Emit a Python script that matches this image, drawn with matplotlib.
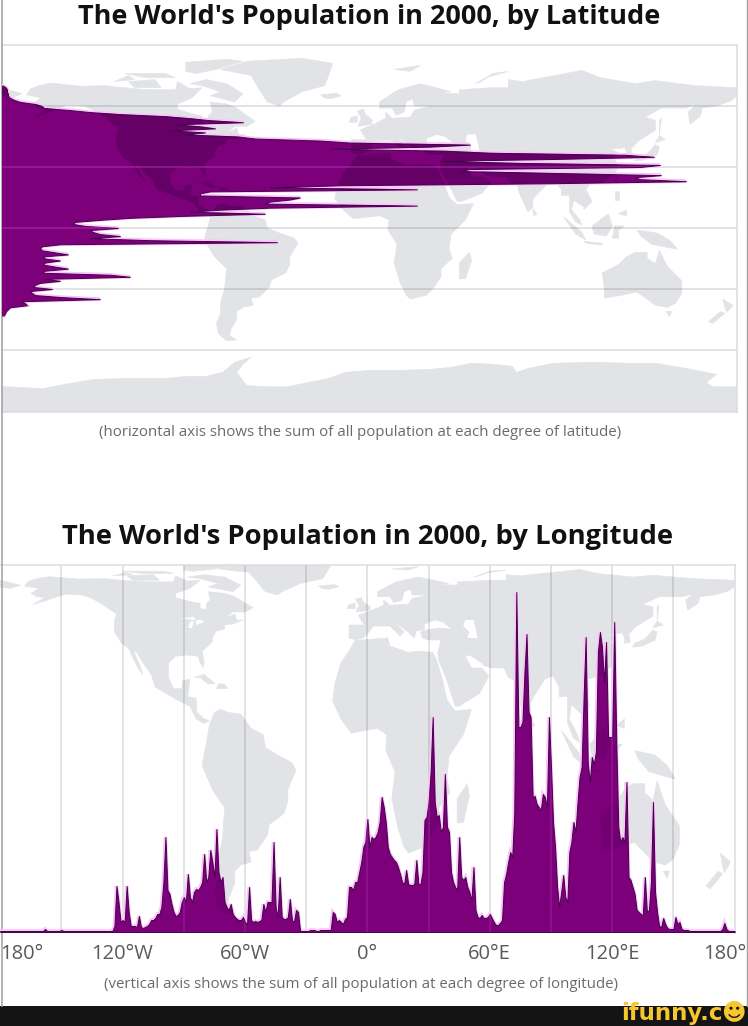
"""World population by latitude and by longitude, drawn over a grey land map."""

import matplotlib
matplotlib.use("Agg")
import matplotlib.pyplot as plt
import numpy as np
from matplotlib.lines import Line2D
from matplotlib.patches import Polygon, Rectangle
from matplotlib.transforms import ScaledTranslation

plt.rcParams["font.family"] = ["Open Sans", "DejaVu Sans"]

TITLE_LAT = "The World's Population in 2000, by Latitude"
TITLE_LON = "The World's Population in 2000, by Longitude"
NOTE_LAT = "(horizontal axis shows the sum of all population at each degree of latitude)"
NOTE_LON = "(vertical axis shows the sum of all population at each degree of longitude)"

LON_TICKS = [-180, -120, -60, 0, 60, 120, 180]
LON_LABELS = ["180°", "120°W", "60°W", "0°", "60°E", "120°E", "180°"]

# one value per degree of latitude, from 70N to 43S
LATITUDES = np.arange(70, -44, -1)
POP_BY_LAT = [
    3, 6, 7, 7, 8, 8, 10, 14, 20, 35,
    42, 44, 70, 90, 120, 165, 190, 210, 243, 175,
    200, 215, 170, 205, 185, 238, 255, 320, 350, 470,
    430, 330, 445, 490, 625, 654, 560, 440, 520, 660,
    640, 470, 460, 560, 661, 635, 640, 686, 550, 340,
    270, 417, 210, 200, 200, 300, 290, 270, 265, 417,
    270, 220, 190, 265, 185, 130, 100, 75, 73, 85,
    118, 90, 93, 100, 120, 90, 150, 277, 60, 42,
    40, 42, 55, 68, 43, 45, 60, 45, 43, 55,
    68, 45, 42, 110, 130, 45, 60, 40, 35, 33,
    52, 30, 32, 35, 62, 100, 22, 25, 27, 10,
    8, 6, 5, 4,
]

# one value per degree of longitude, from 180W to 180E
LONGITUDES = np.arange(-180, 181)
POP_BY_LON = [
    1, 1, 1, 1, 1, 1, 1, 1, 1, 1,
    1, 1, 1, 1, 1, 1, 1, 1, 1, 1,
    1, 1, 3, 1, 1, 1, 1, 1, 1, 1,
    2, 1, 1, 1, 1, 1, 1, 1, 1, 1,
    1, 1, 1, 1, 1, 1, 1, 1, 1, 1,
    1, 1, 1, 1, 1, 1, 6, 46, 30, 10,
    12, 10, 46, 20, 6, 6, 6, 5, 16, 5,
    4, 5, 6, 8, 12, 12, 14, 18, 18, 25,
    50, 95, 42, 38, 28, 20, 16, 17, 20, 30,
    35, 30, 58, 35, 30, 40, 43, 42, 45, 50,
    78, 50, 55, 82, 70, 55, 103, 60, 50, 55,
    30, 25, 22, 28, 18, 15, 13, 12, 12, 15,
    10, 8, 45, 12, 10, 11, 10, 11, 12, 28,
    20, 30, 30, 30, 90, 25, 15, 55, 15, 13,
    13, 15, 33, 12, 10, 22, 20, 1, 1, 1,
    1, 1, 2, 2, 2, 1, 1, 2, 2, 2,
    2, 2, 2, 20, 18, 10, 12, 10, 8, 13,
    15, 45, 45, 42, 50, 50, 60, 70, 85, 90,
    113, 85, 95, 93, 95, 100, 110, 135, 125, 110,
    85, 78, 75, 72, 70, 65, 58, 50, 48, 62,
    48, 47, 47, 48, 72, 48, 48, 60, 112, 115,
    130, 160, 215, 130, 115, 117, 100, 105, 158, 105,
    100, 60, 50, 45, 42, 95, 55, 52, 55, 45,
    40, 32, 65, 22, 15, 14, 17, 14, 14, 15,
    18, 14, 10, 7, 7, 9, 12, 50, 58, 70,
    80, 75, 120, 340, 205, 205, 210, 260, 298, 220,
    215, 135, 136, 128, 125, 122, 138, 135, 125, 215,
    165, 110, 85, 45, 25, 40, 57, 35, 30, 80,
    90, 110, 100, 130, 155, 165, 235, 295, 170, 150,
    175, 168, 180, 280, 300, 285, 250, 290, 195, 195,
    195, 310, 190, 105, 90, 95, 90, 150, 55, 52,
    45, 38, 22, 20, 18, 17, 55, 20, 22, 50,
    130, 40, 20, 6, 5, 14, 8, 4, 3, 3,
    3, 15, 8, 10, 3, 2, 2, 2, 1, 1,
    1, 1, 1, 1, 1, 1, 1, 1, 1, 1,
    1, 1, 1, 1, 3, 9, 3, 1, 1, 1,
    1,
]

# land outlines as (lon, lat)
LAND = [
    # north america
    [(-168, 65.5), (-166, 68.5), (-162, 70), (-156, 71.3), (-141, 69.7), (-130, 70), (-115, 68.5), (-108, 68),
     (-95, 68), (-94, 72), (-88, 68.5), (-82, 69), (-85, 66), (-87, 64), (-94, 61), (-94, 58.5), (-88, 56.5),
     (-82, 55), (-82, 52), (-79, 51.5), (-79, 55), (-77, 57), (-78, 62), (-70, 61), (-65, 59), (-61, 56),
     (-56, 52.5), (-60, 50), (-66, 50), (-70, 47), (-65, 49), (-64, 46), (-61, 46), (-66, 44), (-70, 43.5),
     (-70, 41.5), (-74, 40.5), (-76, 37), (-76, 35), (-81, 31.5), (-80, 27), (-80.5, 25.2), (-82, 27), (-83, 29.5),
     (-89, 30), (-94, 29.5), (-97.5, 27), (-97.5, 22), (-95, 18.5), (-91, 18.5), (-90.5, 21), (-87, 21.5),
     (-88, 16), (-84, 15.5), (-83.5, 11), (-80, 9), (-77.5, 8.5), (-80, 7.5), (-84, 9), (-87, 13), (-92, 14.5),
     (-96, 16), (-104, 19), (-106, 23), (-110, 27), (-113, 31), (-114.7, 31.5), (-112, 27), (-110, 23),
     (-112, 24.5), (-115, 29), (-117, 32.5), (-120.5, 34.5), (-122, 37), (-124, 40), (-124, 46), (-123, 49),
     (-130, 54.5), (-135, 58), (-140, 60), (-148, 60.5), (-152, 59), (-158, 56.5), (-164, 54.5), (-158, 58.5),
     (-162, 59), (-165, 61), (-161, 64)],
    # arctic islands
    [(-80, 73), (-70, 71), (-62, 66), (-66, 62), (-74, 64), (-78, 65), (-73, 67), (-82, 70), (-88, 71)],
    [(-118, 72), (-105, 73), (-102, 69), (-115, 69)],
    [(-90, 77), (-85, 76), (-75, 78), (-62, 82), (-70, 83), (-90, 81.5)],
    [(-125, 72), (-118, 75), (-115, 73)],
    [(-120, 76), (-100, 76), (-95, 74), (-110, 74)],
    # greenland
    [(-73, 78), (-60, 82), (-33, 83.5), (-18, 81), (-20, 75), (-22, 70), (-33, 67), (-42, 62), (-44, 60), (-50, 62),
     (-54, 68), (-58, 75)],
    [(-24, 65.5), (-16, 66.3), (-14, 65), (-19, 63.5), (-22, 64)],
    [(-85, 22), (-80, 23), (-74.5, 20), (-78, 20), (-82, 22)],
    [(-74, 18.5), (-68.5, 18.5), (-70, 20), (-73, 20)],
    # south america
    [(-72, 12), (-68, 11), (-62, 10.5), (-57, 6), (-51, 4), (-50, 0), (-44, -2.5), (-37, -5), (-35, -7.5), (-39, -14),
     (-39, -18), (-41, -22), (-48, -25.5), (-49, -29), (-54, -34), (-58, -34.5), (-57, -38), (-62, -39), (-65, -41),
     (-65, -45), (-68, -50), (-68.5, -53), (-65, -55), (-70, -55.5), (-74, -52), (-75, -47), (-73, -42), (-73, -37),
     (-71, -30), (-70, -20), (-76, -14), (-81, -6), (-80, -2), (-79, 1), (-77.5, 7), (-75, 11)],
    # africa
    [(-6, 35.8), (10, 37), (11, 33.5), (20, 31), (25, 31.5), (32, 31), (34, 28), (37, 21), (39, 15), (43, 11.5),
     (51, 12), (47, 4), (40, -3), (39, -10), (40.5, -15), (35, -20), (35, -24), (32.5, -28), (28, -33), (20, -35),
     (18, -33), (15, -27), (12, -17), (13.5, -8), (9, -1), (9.5, 4), (5, 6), (-4, 5), (-8, 4.5), (-13, 9), (-17, 14.5),
     (-16, 20), (-13, 27), (-9.5, 31)],
    [(49, -12), (50, -16), (47, -25), (44, -25), (44, -17)],
    # eurasia
    [(-9, 37), (-9, 43.5), (-1.5, 43.5), (-4.5, 48.3), (2, 51), (8, 54), (8, 57), (11, 54), (20, 54.5), (22, 58),
     (30, 60), (22, 60), (21, 64), (25, 65.5), (18, 62), (17, 57), (13, 55.5), (11, 59), (5, 59), (5, 62), (14, 68),
     (25, 71), (40, 67), (33, 66.5), (44, 66), (44, 68), (60, 69), (68, 69), (68, 73), (75, 72), (80, 73), (104, 77.5),
     (113, 74), (130, 71), (140, 72.5), (160, 70), (180, 69), (180, 65), (177, 62.5), (170, 60), (163, 59), (162, 55),
     (157, 51), (156, 57), (160, 61), (155, 59), (143, 59), (135, 54.5), (140, 53), (140, 48), (132, 43), (128, 39),
     (129, 35), (126, 34.5), (126, 37), (125, 39.5), (121, 39), (118, 39), (122, 37), (119, 35), (122, 31), (120, 26),
     (114, 22.5), (108, 21.5), (106, 19), (109, 13), (105, 9), (105, 10.5), (100, 13.5), (99, 9), (103, 4), (104, 1.5),
     (101, 3), (98, 8), (98, 16), (94, 16), (94, 19), (91, 22.5), (87, 21.5), (82, 16.5), (80, 14), (80, 10), (77.5, 8),
     (73, 18), (72.5, 21), (69, 22), (67, 25), (61, 25), (57, 26), (56, 27), (50, 30), (48, 29.5), (51, 25), (56, 25),
     (59.5, 22.5), (55, 17), (45, 13), (43, 13), (39, 21), (35, 28), (34.5, 31), (36, 36), (30, 36), (27, 37), (26, 40),
     (29, 41), (35, 42), (41.5, 41.5), (37, 45), (33, 46), (28, 44), (28, 41), (24, 40.5), (23, 37), (20, 40), (13, 45.5),
     (18, 40), (16, 38), (11, 43), (3, 43), (0, 39), (-2, 37), (-5.5, 36)],
    [(-180, 69), (-170, 66), (-175, 64), (-180, 65)],
    # europe and asia islands
    [(-5.5, 50), (1, 51), (1.5, 53), (-2, 56), (-3, 58.5), (-6, 57.5), (-4, 54), (-5, 52)],
    [(-10, 52), (-6, 52), (-6, 55), (-9, 54.5)],
    [(52, 71), (57, 74), (68, 77), (60, 76), (55, 72)],
    [(12, 78), (25, 80), (20, 77)],
    [(142, 46), (143, 54), (142, 53), (142, 47)],
    [(130, 33), (135, 33.5), (141, 36), (142, 40), (140, 41), (136, 36.5), (131, 34.5)],
    [(140, 42), (145, 43.5), (142, 45.5)],
    [(120, 22), (122, 25), (121, 25)],
    [(80, 9.5), (82, 7), (80.5, 6)],
    [(95, 5.5), (104, -2), (106, -6), (101, -3)],
    [(105, -6.5), (114, -7.5), (114, -8.5), (106, -7.5)],
    [(109, 1), (117, 7), (119, 1), (116, -4), (110, -3)],
    [(120, 1), (125, 1), (122, -1), (122, -5), (119, -5)],
    [(120, 18), (122, 18), (122, 14), (120, 14)],
    [(122, 7), (126, 9), (126, 6)],
    [(131, -1), (141, -2.5), (147, -6), (151, -10.5), (143, -9), (138, -8), (133, -4)],
    # australia, new zealand
    [(114, -22), (122, -18), (126, -14), (130, -12), (136, -12), (136, -15), (140, -17.5), (142, -11), (146, -19),
     (153, -26), (153, -32), (150, -37), (146, -39), (140, -38), (136, -35), (131, -31.5), (124, -33), (115, -34.5),
     (115, -30)],
    [(145, -41), (148, -41), (147, -43.5)],
    [(173, -35), (178, -38), (175, -41.5), (174, -39)],
    [(172, -41), (174, -42), (168, -47), (166, -46)],
]
ANTARCTICA = [
    (-180, -78), (-160, -79), (-150, -77), (-135, -74.5), (-120, -74), (-100, -74), (-90, -73), (-80, -73), (-72, -71),
    (-66, -66), (-58, -63.5), (-62, -67), (-65, -71), (-62, -75), (-60, -77.5), (-50, -78), (-40, -78), (-30, -76),
    (-20, -74), (-12, -71), (0, -70), (15, -70), (30, -69.5), (40, -68.5), (50, -66.5), (60, -67), (70, -68), (72, -71),
    (78, -69), (90, -66.5), (110, -66), (125, -66.5), (140, -66.5), (155, -69), (165, -71), (170, -72), (165, -76),
    (168, -78), (180, -78), (180, -91), (-180, -91),
]
WATER = [
    [(49, 37), (54, 37), (53, 42), (52, 46), (48, 46), (47, 43), (50, 40)],
    [(-92, 46.8), (-85, 47.5), (-84.5, 46), (-88, 46.5)],
    [(-87.8, 42), (-86, 42), (-85, 45.5), (-87, 45)],
    [(-84, 43.5), (-80, 45), (-81, 46), (-84, 46)],
]

# the lower map is stretched unevenly: latitude -> row of the map
STRETCH_LAT = [-60, -35, 0, 25, 35, 45, 50, 60, 71, 84]
STRETCH_ROW = [928, 853, 747.5, 668, 642, 622, 612, 595, 577, 562]

LAND_COLOR = "#e2e3e6"
PURPLE = "#7b0079"
DARK = "#45004c"
HALO = "#f9c6f8"
W, H = 748, 1026


def axes_px(fig, x0, y0, x1, y1, zorder):
    ax = fig.add_axes([x0 / W, 1 - y1 / H, (x1 - x0) / W, (y1 - y0) / H], zorder=zorder)
    ax.patch.set_alpha(0)
    ax.set_xticks([])
    ax.set_yticks([])
    for s in ax.spines.values():
        s.set_visible(False)
    return ax


def draw_land(ax, shapes, **kw):
    out = []
    for xy in shapes:
        p = Polygon(xy, closed=True, **kw)
        ax.add_patch(p)
        out.append(p)
    return out


def overlay(ax_main, ax_map, fill, shapes, alpha):
    """darker land seen through the purple, like a multiply blend"""
    path = fill.get_paths()[0]
    for xy in shapes:
        p = Polygon(xy, closed=True, fc=DARK, ec="none", alpha=alpha, transform=ax_map.transData)
        ax_main.add_patch(p)
        p.set_clip_path(path, ax_main.transData)


fig = plt.figure(figsize=(W / 100, H / 100), dpi=100, facecolor="white")

# ---------- by latitude ----------
map_top = axes_px(fig, 2, 45, 737, 412, 1)
map_top.set_xlim(-180, 180)
map_top.set_ylim(-90.5, 90)
draw_land(map_top, LAND + [ANTARCTICA], fc=LAND_COLOR, ec=LAND_COLOR, lw=0.4)
draw_land(map_top, WATER, fc="white", ec="none")
for lat in [60, 30, 0, -30, -60]:
    map_top.axhline(lat, color="black", alpha=0.14, lw=1.1)
for s in map_top.spines.values():
    s.set_visible(True)
    s.set_color("#dcdcdc")
    s.set_linewidth(1.1)

main_top = axes_px(fig, 2, 45, 737, 412, 2)
main_top.plot(POP_BY_LAT, LATITUDES, color=HALO, lw=2.6, solid_joinstyle="miter", zorder=0.5)
fill = main_top.fill_betweenx(LATITUDES, 0, POP_BY_LAT, facecolor=PURPLE, edgecolor=DARK, lw=0.7, zorder=1)
overlay(main_top, map_top, fill, LAND, 0.42)
for lat in [30, 0]:
    ln = main_top.axhline(lat, color="#c93cc4", alpha=0.45, lw=1.2)
    ln.set_clip_path(fill.get_paths()[0], main_top.transData)
main_top.set_xlim(2, 737)
main_top.set_ylim(-90.5, 90)

# ---------- by longitude ----------
map_bot = axes_px(fig, 0, 565, 735, 933, 1)
map_bot.set_xlim(-180.1, 180.2)
map_bot.set_ylim(933, 565)


def stretch(shape):
    arr = np.array(shape, dtype=float)
    arr[:, 1] = np.interp(arr[:, 1], STRETCH_LAT, STRETCH_ROW)
    return arr


land_bot = [stretch(s) for s in LAND]
draw_land(map_bot, land_bot, fc=LAND_COLOR, ec=LAND_COLOR, lw=0.4)
draw_land(map_bot, [stretch(s) for s in WATER], fc="white", ec="none")
for lon in LON_TICKS[1:-1] + [-150, -90, -30, 30, 90, 150]:
    map_bot.axvline(lon, color="black", alpha=0.14, lw=1.1)
for side in ["top", "right"]:
    map_bot.spines[side].set_visible(True)
    map_bot.spines[side].set_color("#dcdcdc")
    map_bot.spines[side].set_linewidth(1.1)

main_bot = axes_px(fig, 0, 565, 735, 933, 2)
main_bot.plot(LONGITUDES, POP_BY_LON, color=HALO, lw=2.6, solid_joinstyle="miter", zorder=0.5)
main_bot.axhline(-0.5, color=HALO, lw=1.3, zorder=0.5)
fill2 = main_bot.fill_between(LONGITUDES, 0, POP_BY_LON, facecolor=PURPLE, edgecolor=DARK, lw=0.7, zorder=1)
overlay(main_bot, map_bot, fill2, land_bot, 0.14)
for lon in [-90, -60, 0, 30, 60, 90, 120]:
    ln = main_bot.axvline(lon, color="#c93cc4", alpha=0.3, lw=1.2)
    ln.set_clip_path(fill2.get_paths()[0], main_bot.transData)
main_bot.set_xlim(-180.1, 180.2)
main_bot.set_ylim(-1, 367)
main_bot.set_xticks(LON_TICKS)
main_bot.set_xticklabels(LON_LABELS, fontsize=14.5, color="#5a5a5a")
main_bot.tick_params(axis="x", length=0, pad=8)
labels = main_bot.get_xticklabels()
labels[0].set_ha("left")
labels[-1].set_ha("right")
labels[-1].set_transform(labels[-1].get_transform() + ScaledTranslation(12 / 100, 0, fig.dpi_scale_trans))
labels[-1].set_clip_on(False)

# ---------- titles and notes ----------
fig.text(369.5 / W, 1 - 17.5 / H, TITLE_LAT, ha="center", va="center", fontsize=19.5, fontweight="bold", color="#111111")
fig.text(367.5 / W, 1 - 537 / H, TITLE_LON, ha="center", va="center", fontsize=19.7, fontweight="bold", color="#111111")
fig.text(360 / W, 1 - 432 / H, NOTE_LAT, ha="center", va="center", fontsize=10.8, color="#6a6a6a")
fig.text(361 / W, 1 - 985 / H, NOTE_LON, ha="center", va="center", fontsize=10.8, color="#6a6a6a")

# ---------- picture edges and footer ----------
fig.add_artist(Line2D([1.5 / W] * 2, [20 / H, 1], color="#a8a8a8", lw=1.2))
fig.add_artist(Line2D([746.8 / W] * 2, [20 / H, 1], color="#a0a0a0", lw=1.0))
fig.add_artist(Rectangle((0, 0), 1, 20 / H, transform=fig.transFigure, fc="#141414", ec="none"))
fig.text(723 / W, 1 - 1020.3 / H, "ifunny.c", ha="right", va="baseline", fontsize=16.5, fontweight="bold",
         family="DejaVu Sans", color="#f7c52e")
fig.text(733 / W, 1 - 1012 / H, "☻", ha="center", va="center", fontsize=17, family="DejaVu Sans", color="#f7c52e")

fig.savefig("out.png", dpi=100)
plt.close(fig)
